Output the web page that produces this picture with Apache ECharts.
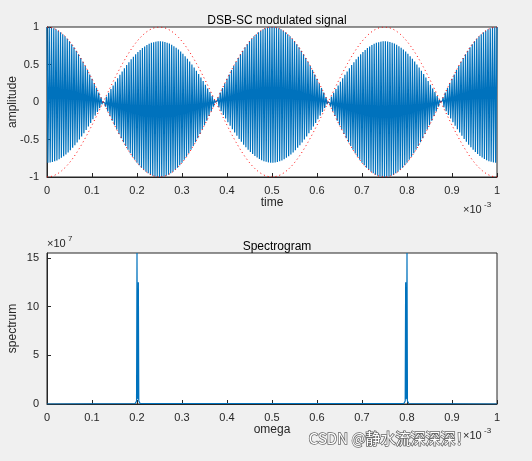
<!DOCTYPE html>
<html><head><meta charset="utf-8">
<script src="https://cdn.jsdelivr.net/npm/echarts@6/dist/echarts.min.js"></script>
<style>body{margin:0;background:#f0f0f0}#c{width:532px;height:461px}</style>
</head><body><div id="c"></div>
<script>
// signal parameters (time axis in units of 1e-3 s)
const fm = 2000, fc = 200000, fs = 1000000, nSamples = 1000;
const xTicks = [0, 0.1, 0.2, 0.3, 0.4, 0.5, 0.6, 0.7, 0.8, 0.9, 1];
const yTicksTop = [-1, -0.5, 0, 0.5, 1];
const yTicksBottom = [0, 5, 10, 15];
// spectrum (omega, value in 1e7)
const specOmega = [0, 0.196, 0.199, 0.200, 0.201, 0.202, 0.203, 0.204, 0.207, 0.793, 0.796, 0.797, 0.798, 0.799, 0.800, 0.801, 0.804, 1];
const specValue = [0, 0.05, 0.3, 15.5, 1.0, 0.5, 12.5, 0.3, 0.05, 0.05, 0.3, 12.5, 0.5, 1.0, 15.5, 0.3, 0.05, 0];

const sig = [], envUp = [], envDown = [];
for (let k = 0; k <= nSamples; k++) {
  const t = k / fs;
  const m = Math.cos(2 * Math.PI * fm * t);
  sig.push([t * 1000, m * Math.cos(2 * Math.PI * fc * t)]);
  if (k % 4 === 0) { envUp.push([t * 1000, m]); envDown.push([t * 1000, -m]); }
}
const spec = specOmega.map((w, i) => [w, specValue[i]]);

const font = 'Liberation Sans';
const axisCommon = {
  axisLine: {onZero: false, lineStyle: {color: '#262626'}},
  axisTick: {inside: true, length: 4, lineStyle: {color: '#262626'}},
  axisLabel: {color: '#262626', fontSize: 11, fontFamily: font},
  splitLine: {show: false},
  nameTextStyle: {color: '#262626', fontSize: 12, fontFamily: font}
};
function xAx(idx, name) {
  return Object.assign({}, axisCommon, {gridIndex: idx, type: 'value', min: 0, max: 1, interval: 0.1,
    name: name, nameLocation: 'middle', nameGap: 20,
    axisLabel: Object.assign({}, axisCommon.axisLabel, {formatter: v => xTicks.includes(+v.toFixed(1)) ? String(+v.toFixed(1)) : ''})});
}
const chart = echarts.init(document.getElementById('c'));
chart.setOption({
  animation: false,
  backgroundColor: '#f0f0f0',
  title: [
    {text: 'DSB-SC modulated signal', left: 272, top: 10, textAlign: 'center', textStyle: {fontSize: 12, fontWeight: 'normal', color: '#000', fontFamily: font}},
    {text: 'Spectrogram', left: 272, top: 236, textAlign: 'center', textStyle: {fontSize: 12, fontWeight: 'normal', color: '#000', fontFamily: font}}
  ],
  grid: [
    {left: 47, top: 27, width: 450, height: 150, containLabel: false, outerBoundsMode: 'none', show: true, backgroundColor: '#fff', borderColor: '#262626', borderWidth: 1},
    {left: 47, top: 253, width: 450, height: 151, containLabel: false, outerBoundsMode: 'none', show: true, backgroundColor: '#fff', borderColor: '#262626', borderWidth: 1}
  ],
  xAxis: [xAx(0, 'time'), xAx(1, 'omega')],
  yAxis: [
    Object.assign({}, axisCommon, {gridIndex: 0, min: -1, max: 1, interval: 0.5, name: 'amplitude', nameLocation: 'middle', nameGap: 28, nameMoveOverlap: false}),
    Object.assign({}, axisCommon, {gridIndex: 1, min: 0, max: 15.5, interval: 5, name: 'spectrum', nameLocation: 'middle', nameGap: 28, nameMoveOverlap: false})
  ],
  series: [
    {type: 'line', xAxisIndex: 0, yAxisIndex: 0, data: sig, showSymbol: false, lineStyle: {color: '#0072BD', width: 1.2}},
    {type: 'line', xAxisIndex: 0, yAxisIndex: 0, data: envUp, showSymbol: false, lineStyle: {color: '#ff0000', width: 1, type: [1, 3]}},
    {type: 'line', xAxisIndex: 0, yAxisIndex: 0, data: envDown, showSymbol: false, lineStyle: {color: '#ff0000', width: 1, type: [1, 3]}},
    {type: 'line', xAxisIndex: 1, yAxisIndex: 1, data: spec, showSymbol: false, lineStyle: {color: '#0072BD', width: 1.2}}
  ],
  graphic: [
    {type: 'text', left: 463, top: 204, style: {text: '×10', fontSize: 11, fill: '#262626', fontFamily: font}},
    {type: 'text', left: 484, top: 201, style: {text: '-3', fontSize: 8, fill: '#262626', fontFamily: font}},
    {type: 'text', left: 47, top: 238, style: {text: '×10', fontSize: 11, fill: '#262626', fontFamily: font}},
    {type: 'text', left: 68, top: 235, style: {text: '7', fontSize: 8, fill: '#262626', fontFamily: font}},
    {type: 'text', left: 463, top: 430, style: {text: '×10', fontSize: 11, fill: '#262626', fontFamily: font}},
    {type: 'text', left: 484, top: 427, style: {text: '-3', fontSize: 8, fill: '#262626', fontFamily: font}},
    {type: 'text', left: 308, top: 430, style: {text: 'CSDN @静水流深深深！', fontSize: 15, fill: '#ffffff', stroke: '#666', lineWidth: 1.5, fontFamily: 'Noto Sans CJK SC'}, z: 10}
  ]
});
</script></body></html>
